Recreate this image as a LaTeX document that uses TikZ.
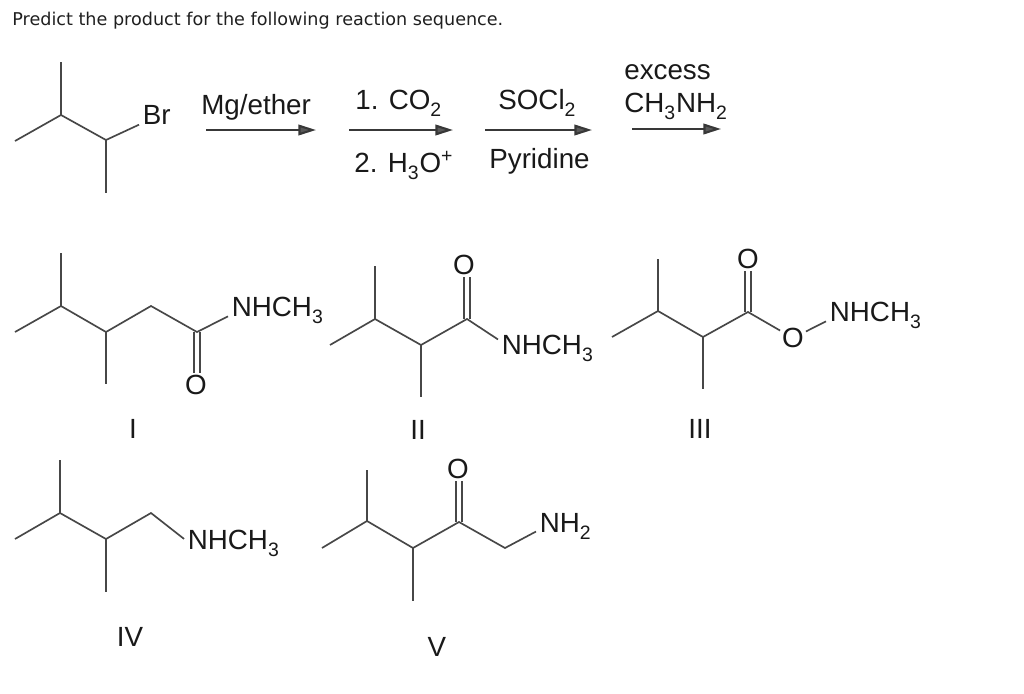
\documentclass[tikz,border=0pt]{standalone}
\usepackage{fontspec}
\setmainfont{Liberation Sans}
\newfontfamily\titlefont{DejaVu Sans}
\usetikzlibrary{arrows.meta}
\newcommand{\lowsub}[1]{\raisebox{-1.6pt}{\textsubscript{#1}}}
\tikzset{
    bond/.style={draw=black!72, line width=0.95pt},
    dblbond/.style={bond, double=white, double distance=2.7pt, line width=0.8pt},
    rxnarrow/.style={draw=black!78, line width=1.2pt, -{Triangle[length=10pt,width=6pt,fill=black!65]}},
    atom/.style={inner sep=2pt, anchor=base west, text=black!90, font=\fontsize{15.8}{18}\selectfont},
    oxy/.style={inner sep=1pt, text=black!90, font=\fontsize{15.8}{18}\selectfont},
    tag/.style={inner sep=0pt, anchor=base, text=black!90, font=\fontsize{15.8}{18}\selectfont},
    reagent/.style={inner sep=0pt, anchor=base west, text=black!90, font=\fontsize{15.8}{18}\selectfont}
}
\begin{document}
\begin{tikzpicture}[x=0.02cm, y=-0.02cm]
    \useasboundingbox (0,0) rectangle (1024,693);
    \node [inner sep=0pt, anchor=base west, text=black!88, font=\titlefont\fontsize{10.02}{12}\selectfont] (title) at (12,26) {Predict the product for the following reaction sequence.};

    % starting bromide
    \coordinate (s0) at (61,62);
    \coordinate (s1) at (61,115);
    \coordinate (s2) at (15,141);
    \coordinate (s3) at (106,140);
    \coordinate (s4) at (106,193);
    \node [atom] (br) at (139,124) {Br};
    \draw [bond] (s0) -- (s1);
    \draw [bond] (s2) -- (s1) -- (s3) -- (br.210);
    \draw [bond] (s3) -- (s4);

    % reagents
    \coordinate (a1) at (206,130);
    \coordinate (b1) at (316,130);
    \coordinate (a2) at (349,130);
    \coordinate (b2) at (453,130);
    \coordinate (a3) at (485,130);
    \coordinate (b3) at (592,130);
    \coordinate (a4) at (632,129);
    \coordinate (b4) at (721,129);
    \draw [rxnarrow] (a1) -- (b1);
    \draw [rxnarrow] (a2) -- (b2);
    \draw [rxnarrow] (a3) -- (b3);
    \draw [rxnarrow] (a4) -- (b4);
    \node [reagent] (mg) at (201,114) {Mg/ether};
    \node [reagent] (co) at (355,109) {1. CO\lowsub{2}};
    \node [reagent] (hy) at (354,172) {2. H\lowsub{3}O\textsuperscript{+}};
    \node [reagent] (so) at (498,109) {SOCl\lowsub{2}};
    \node [reagent] (py) at (489,168) {Pyridine};
    \node [reagent] (ex) at (624,79) {excess};
    \node [reagent] (me) at (624,112) {CH\lowsub{3}NH\lowsub{2}};

    % product I
    \coordinate (p0) at (61,253);
    \coordinate (p1) at (61,306);
    \coordinate (p2) at (15,332);
    \coordinate (p3) at (106,332);
    \coordinate (p4) at (106,384);
    \coordinate (p5) at (151,306);
    \coordinate (p6) at (197,332);
    \node [oxy] (o1) at (196,385) {O};
    \node [atom] (n1) at (228,316) {NHCH\lowsub{3}};
    \node [tag] (l1) at (133,438) {I};
    \draw [dblbond] (p6) -- (p6 |- o1.north);
    \draw [bond] (p0) -- (p1);
    \draw [bond] (p2) -- (p1) -- (p3) -- (p5) -- (p6) -- (n1.187);
    \draw [bond] (p3) -- (p4);

    % product II
    \coordinate (q0) at (375,266);
    \coordinate (q1) at (375,319);
    \coordinate (q2) at (330,345);
    \coordinate (q3) at (421,345);
    \coordinate (q4) at (421,397);
    \coordinate (q5) at (467,319);
    \node [oxy] (o2) at (464,265) {O};
    \node [atom] (n2) at (498,354) {NHCH\lowsub{3}};
    \node [tag] (l2) at (418,439) {II};
    \draw [dblbond] (q5) -- (q5 |- o2.south);
    \draw [bond] (q0) -- (q1);
    \draw [bond] (q2) -- (q1) -- (q3) -- (q5) -- (n2.170);
    \draw [bond] (q3) -- (q4);

    % product III
    \coordinate (r0) at (658,259);
    \coordinate (r1) at (658,311);
    \coordinate (r2) at (612,337);
    \coordinate (r3) at (703,337);
    \coordinate (r4) at (703,389);
    \coordinate (r5) at (748,312);
    \node [oxy] (o3) at (748,259) {O};
    \node [oxy] (o4) at (793,338) {O};
    \node [atom] (n3) at (826,321) {NHCH\lowsub{3}};
    \node [tag] (l3) at (700,438) {III};
    \draw [dblbond] (r5) -- (r5 |- o3.south);
    \draw [bond] (r0) -- (r1);
    \draw [bond] (r2) -- (r1) -- (r3) -- (r5) -- (o4);
    \draw [bond] (r3) -- (r4);
    \draw [bond] (o4) -- (n3.187);

    % product IV
    \coordinate (t0) at (60,460);
    \coordinate (t1) at (60,513);
    \coordinate (t2) at (15,539);
    \coordinate (t3) at (106,539);
    \coordinate (t4) at (106,592);
    \coordinate (t5) at (151,513);
    \node [atom] (n4) at (184,549) {NHCH\lowsub{3}};
    \node [tag] (l4) at (130,646) {IV};
    \draw [bond] (t0) -- (t1);
    \draw [bond] (t2) -- (t1) -- (t3) -- (t5) -- (n4.175);
    \draw [bond] (t3) -- (t4);

    % product V
    \coordinate (u0) at (367,470);
    \coordinate (u1) at (367,521);
    \coordinate (u2) at (322,548);
    \coordinate (u3) at (413,548);
    \coordinate (u4) at (413,601);
    \coordinate (u5) at (459,522);
    \coordinate (u6) at (505,548);
    \node [oxy] (o5) at (458,469) {O};
    \node [atom] (n5) at (536,532) {NH\lowsub{2}};
    \node [tag] (l5) at (437,656) {V};
    \draw [dblbond] (u5) -- (u5 |- o5.south);
    \draw [bond] (u0) -- (u1);
    \draw [bond] (u2) -- (u1) -- (u3) -- (u5) -- (u6) -- (n5.190);
    \draw [bond] (u3) -- (u4);
\end{tikzpicture}
\end{document}
